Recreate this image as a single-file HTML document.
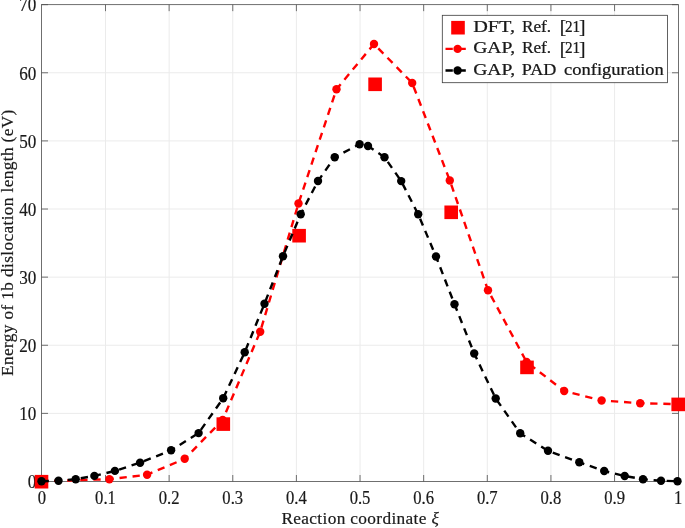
<!DOCTYPE html>
<html><head><meta charset="utf-8"><title>Energy of 1b dislocation length</title>
<style>html,body{margin:0;padding:0;background:#fff}body{width:685px;height:528px;overflow:hidden}svg{display:block}text{font-family:"Liberation Serif","Times New Roman",serif;fill:#1a1a1a}</style>
</head><body>
<svg width="685" height="528" viewBox="0 0 685 528">
<rect x="0" y="0" width="685" height="528" fill="#ffffff"/>
<path d="M105.50 4.66 V481.5 M169.14 4.66 V481.5 M232.77 4.66 V481.5 M296.40 4.66 V481.5 M360.04 4.66 V481.5 M423.67 4.66 V481.5 M487.30 4.66 V481.5 M550.93 4.66 V481.5 M614.57 4.66 V481.5 M41.5 413.38 H678.5 M41.5 345.26 H678.5 M41.5 277.14 H678.5 M41.5 209.02 H678.5 M41.5 140.90 H678.5 M41.5 72.78 H678.5" stroke="#ebebeb" stroke-width="1" fill="none"/>
<path d="M105.50 481.5 v-6.5 M105.50 4.66 v6.5 M169.14 481.5 v-6.5 M169.14 4.66 v6.5 M232.77 481.5 v-6.5 M232.77 4.66 v6.5 M296.40 481.5 v-6.5 M296.40 4.66 v6.5 M360.04 481.5 v-6.5 M360.04 4.66 v6.5 M423.67 481.5 v-6.5 M423.67 4.66 v6.5 M487.30 481.5 v-6.5 M487.30 4.66 v6.5 M550.93 481.5 v-6.5 M550.93 4.66 v6.5 M614.57 481.5 v-6.5 M614.57 4.66 v6.5 M41.5 481.50 h6.5 M678.5 481.50 h-6.5 M41.5 413.38 h6.5 M678.5 413.38 h-6.5 M41.5 345.26 h6.5 M678.5 345.26 h-6.5 M41.5 277.14 h6.5 M678.5 277.14 h-6.5 M41.5 209.02 h6.5 M678.5 209.02 h-6.5 M41.5 140.90 h6.5 M678.5 140.90 h-6.5 M41.5 72.78 h6.5 M678.5 72.78 h-6.5 M41.5 4.66 h6.5 M678.5 4.66 h-6.5" stroke="#4d4d4d" stroke-width="0.8" fill="none"/>
<rect x="41.5" y="4.66" width="637.0" height="476.84" fill="none" stroke="#4d4d4d" stroke-width="0.8"/>
<g font-size="17.9" text-anchor="middle" stroke="#1a1a1a" stroke-width="0.2">
<text transform="translate(41.87 503.6) scale(0.93 1)">0</text>
<text transform="translate(105.50 503.6) scale(0.93 1)">0.1</text>
<text transform="translate(169.14 503.6) scale(0.93 1)">0.2</text>
<text transform="translate(232.77 503.6) scale(0.93 1)">0.3</text>
<text transform="translate(296.40 503.6) scale(0.93 1)">0.4</text>
<text transform="translate(360.04 503.6) scale(0.93 1)">0.5</text>
<text transform="translate(423.67 503.6) scale(0.93 1)">0.6</text>
<text transform="translate(487.30 503.6) scale(0.93 1)">0.7</text>
<text transform="translate(550.93 503.6) scale(0.93 1)">0.8</text>
<text transform="translate(614.57 503.6) scale(0.93 1)">0.9</text>
<text transform="translate(678.20 503.6) scale(0.93 1)">1</text>
</g>
<g font-size="17.9" text-anchor="end" stroke="#1a1a1a" stroke-width="0.2">
<text transform="translate(36.4 488.30) scale(0.955 1)">0</text>
<text transform="translate(36.4 420.18) scale(0.955 1)">10</text>
<text transform="translate(36.4 352.06) scale(0.955 1)">20</text>
<text transform="translate(36.4 283.94) scale(0.955 1)">30</text>
<text transform="translate(36.4 215.82) scale(0.955 1)">40</text>
<text transform="translate(36.4 147.70) scale(0.955 1)">50</text>
<text transform="translate(36.4 79.58) scale(0.955 1)">60</text>
<text transform="translate(36.4 11.46) scale(0.955 1)">70</text>
</g>
<text x="281.4" y="523.7" font-size="17.3" stroke="#1a1a1a" stroke-width="0.2" textLength="157.4" lengthAdjust="spacing">Reaction coordinate <tspan font-style="italic">ξ</tspan></text>
<text transform="translate(13.1 376) rotate(-90)" font-size="17.3" stroke="#1a1a1a" stroke-width="0.2" textLength="266.4" lengthAdjust="spacing">Energy of 1b dislocation length (eV)</text>
<g fill="#ff0000">
<rect x="34.70" y="474.90" width="13.6" height="13.6"/>
<rect x="216.50" y="417.30" width="13.6" height="13.6"/>
<rect x="292.30" y="228.90" width="13.6" height="13.6"/>
<rect x="368.30" y="77.50" width="13.6" height="13.6"/>
<rect x="444.40" y="205.50" width="13.6" height="13.6"/>
<rect x="520.20" y="360.60" width="13.6" height="13.6"/>
<rect x="671.40" y="397.60" width="13.6" height="13.6"/>
</g>
<polyline points="41.5,481.2 109.4,479.2 147.1,474.7 184.7,458.8 222.7,419.9 260.2,331.7 298.5,203.5 336.5,89.2 374,44 412.2,83 449.8,180.5 488,290.2 526.6,362.0 564.2,391 601.6,400.5 640.2,403.2 678,404.2" fill="none" stroke="#ff0000" stroke-width="2.4" stroke-dasharray="7.3 5.82" stroke-dashoffset="0.60"/>
<g fill="#ff0000">
<circle cx="41.5" cy="481.2" r="4.2"/>
<circle cx="109.4" cy="479.2" r="4.2"/>
<circle cx="147.1" cy="474.7" r="4.2"/>
<circle cx="184.7" cy="458.8" r="4.2"/>
<circle cx="222.7" cy="419.9" r="4.2"/>
<circle cx="260.2" cy="331.7" r="4.2"/>
<circle cx="298.5" cy="203.5" r="4.2"/>
<circle cx="336.5" cy="89.2" r="4.2"/>
<circle cx="374" cy="44" r="4.2"/>
<circle cx="412.2" cy="83" r="4.2"/>
<circle cx="449.8" cy="180.5" r="4.2"/>
<circle cx="488" cy="290.2" r="4.2"/>
<circle cx="526.6" cy="362.0" r="4.2"/>
<circle cx="564.2" cy="391" r="4.2"/>
<circle cx="601.6" cy="400.5" r="4.2"/>
<circle cx="640.2" cy="403.2" r="4.2"/>
<circle cx="678" cy="404.2" r="4.2"/>
</g>
<polyline points="41.5,481.2 58.5,480.7 75.7,479.2 94.4,475.9 114.9,470.9 140.1,462.7 171.1,450.3 198.6,433.1 223.2,398.2 244.7,352.3 264.5,303.7 283,256.2 300.7,214.2 318,181 334.7,157.2 359.6,144.2 368,146 384.5,157.2 401.2,181.1 418.2,214.3 436,256.5 454.5,304.2 474.2,353.5 495.7,398.5 520.2,433.3 548,450.8 579.3,462.3 604.2,471 624.7,476 643,479.2 661,480.7 677.5,481.2" fill="none" stroke="#000000" stroke-width="2.4" stroke-dasharray="7.3 5.82" stroke-dashoffset="13.06"/>
<g fill="#000000">
<circle cx="41.5" cy="481.2" r="4.2"/>
<circle cx="58.5" cy="480.7" r="4.2"/>
<circle cx="75.7" cy="479.2" r="4.2"/>
<circle cx="94.4" cy="475.9" r="4.2"/>
<circle cx="114.9" cy="470.9" r="4.2"/>
<circle cx="140.1" cy="462.7" r="4.2"/>
<circle cx="171.1" cy="450.3" r="4.2"/>
<circle cx="198.6" cy="433.1" r="4.2"/>
<circle cx="223.2" cy="398.2" r="4.2"/>
<circle cx="244.7" cy="352.3" r="4.2"/>
<circle cx="264.5" cy="303.7" r="4.2"/>
<circle cx="283" cy="256.2" r="4.2"/>
<circle cx="300.7" cy="214.2" r="4.2"/>
<circle cx="318" cy="181" r="4.2"/>
<circle cx="334.7" cy="157.2" r="4.2"/>
<circle cx="359.6" cy="144.2" r="4.2"/>
<circle cx="368" cy="146" r="4.2"/>
<circle cx="384.5" cy="157.2" r="4.2"/>
<circle cx="401.2" cy="181.1" r="4.2"/>
<circle cx="418.2" cy="214.3" r="4.2"/>
<circle cx="436" cy="256.5" r="4.2"/>
<circle cx="454.5" cy="304.2" r="4.2"/>
<circle cx="474.2" cy="353.5" r="4.2"/>
<circle cx="495.7" cy="398.5" r="4.2"/>
<circle cx="520.2" cy="433.3" r="4.2"/>
<circle cx="548" cy="450.8" r="4.2"/>
<circle cx="579.3" cy="462.3" r="4.2"/>
<circle cx="604.2" cy="471" r="4.2"/>
<circle cx="624.7" cy="476" r="4.2"/>
<circle cx="643" cy="479.2" r="4.2"/>
<circle cx="661" cy="480.7" r="4.2"/>
<circle cx="677.5" cy="481.2" r="4.2"/>
</g>
<rect x="442.3" y="15.3" width="225.3" height="67.4" fill="#ffffff" stroke="#3a3a3a" stroke-width="0.8"/>
<rect x="451.2" y="20.9" width="13.6" height="13.6" fill="#ff0000"/>
<path d="M445.5 48.9 H465.8" stroke="#ff0000" stroke-width="2.4" stroke-dasharray="7.3 5.82"/>
<circle cx="457.6" cy="48.9" r="4.2" fill="#ff0000"/>
<path d="M445.5 70.5 H465.8" stroke="#000" stroke-width="2.4" stroke-dasharray="7.3 5.82"/>
<circle cx="457.6" cy="70.5" r="4.2" fill="#000"/>
<g font-size="17" fill="#000" stroke="#000" stroke-width="0.22">
<text x="473.2" y="31.8" textLength="41.9" lengthAdjust="spacingAndGlyphs">DFT,</text>
<text x="521.9" y="31.8" textLength="29.2" lengthAdjust="spacingAndGlyphs">Ref.</text>
<text x="559.7" y="33.0" font-size="19.5">[</text>
<text x="564.9000000000001" y="31.8" textLength="15.2" lengthAdjust="spacingAndGlyphs">21</text>
<text x="579.1" y="33.0" font-size="19.5">]</text>
<text x="473.2" y="53.3" textLength="41.9" lengthAdjust="spacingAndGlyphs">GAP,</text>
<text x="521.9" y="53.3" textLength="29.2" lengthAdjust="spacingAndGlyphs">Ref.</text>
<text x="559.7" y="54.5" font-size="19.5">[</text>
<text x="564.9000000000001" y="53.3" textLength="15.2" lengthAdjust="spacingAndGlyphs">21</text>
<text x="579.1" y="54.5" font-size="19.5">]</text>
<text x="473.2" y="74.8" textLength="41.9" lengthAdjust="spacingAndGlyphs">GAP,</text>
<text x="521.8" y="74.8" textLength="34.6" lengthAdjust="spacingAndGlyphs">PAD</text>
<text x="564.1" y="74.8" textLength="99.7" lengthAdjust="spacingAndGlyphs">configuration</text>
</g>
</svg>
</body></html>
